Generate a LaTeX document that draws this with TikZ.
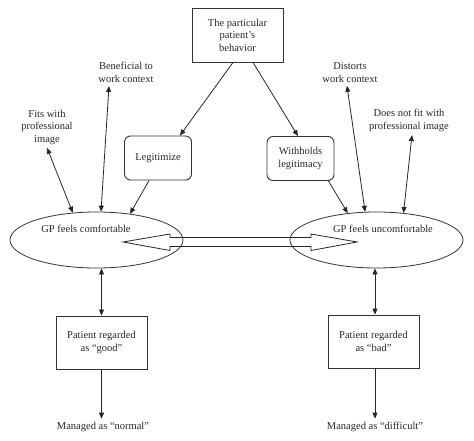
\documentclass[tikz,border=0pt]{standalone}
\usepackage{fontspec}
\setmainfont{Liberation Serif}
\usepackage{tikz}
\usetikzlibrary{arrows.meta, positioning, shapes.geometric, calc}

\begin{document}
\begin{tikzpicture}[
    x=1pt, y=-1pt,
    every node/.style={font=\fontsize{10.5}{12.5}\selectfont, text=black!85, align=center},
    box/.style={draw=black!80, line width=0.9pt, minimum width=#1, inner sep=0},
    box/.default=91pt,
    rbox/.style={draw=black!80, line width=0.9pt, rounded corners=6pt, minimum width=67pt, minimum height=44pt, inner sep=0},
    oval/.style={draw=black!80, line width=0.8pt, ellipse, minimum width=173pt, minimum height=56pt, inner sep=0},
    arr/.style={draw=black!85, line width=0.8pt, -{Triangle[length=6pt, width=5pt]}},
    darr/.style={arr, {Triangle[length=6pt, width=5pt]}-{Triangle[length=6pt, width=5pt]}}
]
\useasboundingbox (0,0) rectangle (474,441);

% Top box
\node[box, minimum height=54pt] (behavior) at (237.5,35) {The particular\\patient's\\behavior};

% Legitimize / withholds
\node[rbox] (legit) at (158,158) {Legitimize};
\node[rbox] (withhold) at (300.5,158.5) {Withholds\\legitimacy};

\draw[arr] ([xshift=-4.5pt]behavior.south) -- ([xshift=-12pt]legit.north east);
\draw[arr] ([xshift=15.5pt]behavior.south) -- ([xshift=-2.5pt]withhold.north);

% Ellipses
\node[oval] (comf) at (96.5,240) {};
\node (comf-text) at (86,229) {GP feels comfortable};
\node[oval] (uncomf) at (376.5,240) {};
\node (uncomf-text) at (383,229) {GP feels uncomfortable};

\draw[arr] ([xshift=-9pt]legit.south) -- (comf.38);
\draw[arr] ([xshift=-6pt]withhold.south east) -- (uncomf.137);

% Labels on the left
\node (fits) at (47,127) {Fits with\\professional\\image};
\node (benefit) at (126,72.5) {Beneficial to\\work context};
\draw[darr] (fits.south) -- (comf.131);
\draw[darr] ([xshift=-17pt]benefit.south) -- (comf.81);

% Labels on the right
\node (distorts) at (350,72.5) {Distorts\\work context};
\node (notfit) at (409,120.5) {Does not fit with\\professional image};
\draw[darr] ([xshift=-3pt]distorts.south) -- (uncomf.112);
\draw[darr] ([xshift=3pt]notfit.south) -- (uncomf.45);

% Hollow double arrow between the two feelings
\coordinate (swap-l) at (123,242);
\coordinate (swap-r) at (357,242);
\draw[black!85, line width=0.8pt]
    (swap-l) -- ++(47,-8) -- ++(0,3.5) -- ($(swap-r)+(-46,-4.5)$) -- ++(0,-3.5)
    -- (swap-r) -- ++(-46,8.5) -- ++(0,-4) -- ($(swap-l)+(47,4.5)$) -- ++(0,4) -- cycle;

% Bottom boxes
\node[box, minimum height=53pt] (good) at (101.5,342.5) {Patient regarded\\as ``good''};
\node[box, minimum height=53pt] (bad) at (373.5,341.5) {Patient regarded\\as ``bad''};

\draw[darr] (comf.south -| good.north) -- (good.north);
\draw[darr] ([xshift=1.5pt]uncomf.south -| bad.north) -- ([xshift=1.5pt]bad.north);

% Outcomes
\node (normal) at (103,427) {Managed as ``normal''};
\node (difficult) at (375,427) {Managed as ``difficult''};
\draw[arr] (good.south) -- (good.south |- normal.north);
\draw[arr] ([xshift=1.5pt]bad.south) -- ([xshift=1.5pt]bad.south |- difficult.north);

\end{tikzpicture}
\end{document}
